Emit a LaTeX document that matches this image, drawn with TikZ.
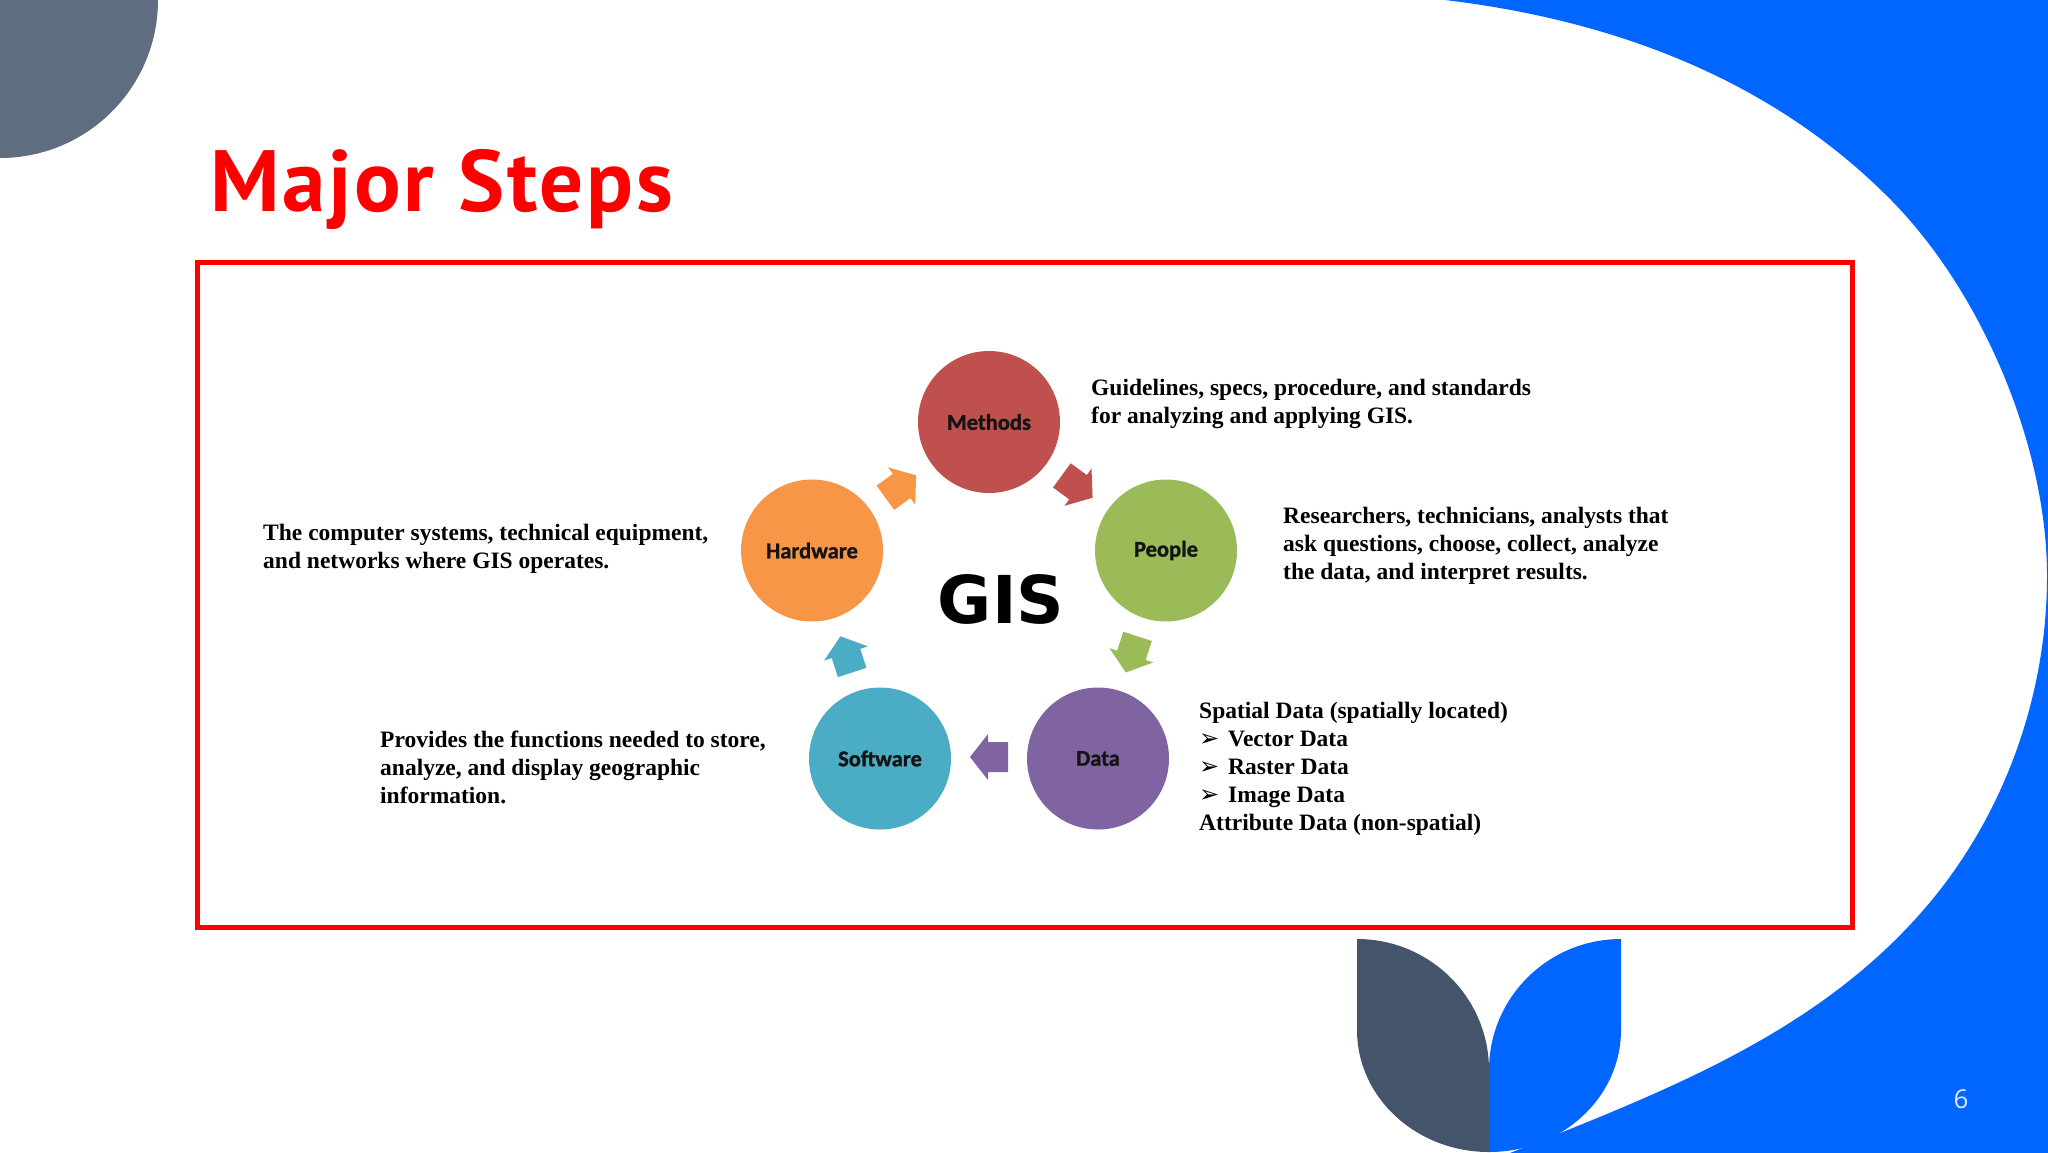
\documentclass[tikz,border=0pt]{standalone}
\usepackage{fontspec}
\setmainfont{Liberation Serif}
\newfontfamily\titlefont[LetterSpace=3.0]{PT Sans}
\newfontfamily\lblfont[BoldFeatures={FakeBold=1.2}]{Carlito}
\newfontfamily\gisfont{DejaVu Sans}
\newfontfamily\bulletfont{DejaVu Sans}
\newfontfamily\numfont{Open Sans}
\definecolor{tlgray}{HTML}{5F6D81}
\definecolor{leafdark}{HTML}{44546A}
\definecolor{slideblue}{HTML}{0066FF}
\definecolor{methodsC}{HTML}{C0504D}
\definecolor{peopleC}{HTML}{9BBB59}
\definecolor{dataC}{HTML}{8064A2}
\definecolor{softwareC}{HTML}{4BACC6}
\definecolor{hardwareC}{HTML}{F79646}
\definecolor{labeltext}{HTML}{141414}
\definecolor{pagenum}{HTML}{DCE6FF}
\tikzset{
  desc/.style={anchor=base west, inner sep=0pt, text=black,
    font=\bfseries\fontsize{23.5}{28}\selectfont},
  comp/.style={circle, minimum size=142pt, inner sep=0pt, text=labeltext,
    font=\lblfont\bfseries\fontsize{22.5}{24}\selectfont},
  blockarrow/.style={fill=#1}
}
\newcommand{\arrowshape}{(19,0) -- (1,23) -- (1,15) -- (-19,15) -- (-19,-15) -- (1,-15) -- (1,-23) -- cycle}
\newcommand{\bul}{\makebox[29pt][l]{\bulletfont\mdseries\fontsize{24}{24}\selectfont ➢}}
\begin{document}
\begin{tikzpicture}[x=1pt,y=-1pt]
\useasboundingbox (0,0) rectangle (2048,1152);
\fill[white] (0,0) rectangle (2048,1152);
% top-left grey quarter disc
\fill[tlgray] (0,0) -- (158,0) .. controls (158,87.3) and (87.3,158) .. (0,158) -- cycle;
% big blue shape on the right
\fill[slideblue] (1445,0) .. controls (1613.8,20.2) and (1772,79.3) .. (1891,200)
  .. controls (1982,292.3) and (2047,446) .. (2047,576)
  .. controls (2047,696) and (2004,815.8) .. (1926,907)
  .. controls (1815.5,1036.2) and (1657.8,1093.9) .. (1500,1157)
  -- (1440,1180) -- (2048,1180) -- (2048,0) -- cycle;
% leaves
\fill[leafdark] (1357,939) .. controls (1429.9,939) and (1489,997.6) .. (1489,1070) -- (1489,1152)
  .. controls (1416.1,1152) and (1357,1097.4) .. (1357,1030) -- cycle;
\fill[slideblue] (1621,939) .. controls (1548.1,939) and (1489,997.6) .. (1489,1070) -- (1489,1152)
  .. controls (1561.9,1152) and (1621,1097.4) .. (1621,1030) -- cycle;
% title
\node[anchor=base west, inner sep=0pt, text=red, font=\titlefont\bfseries\fontsize{87}{90}\selectfont] (title) at (210,211) {Major Steps};
% red frame
\draw[red, line width=5pt] (197,262) rectangle (1852,927);
% cycle components
\node[comp, fill=methodsC] (methods) at (989,422) {Methods};
\node[comp, fill=peopleC] (people) at (1166,550.5) {People};
\node[comp, fill=dataC] (data) at (1098,758.5) {Data};
\node[comp, fill=softwareC] (software) at (880,758.5) {Software};
\node[comp, fill=hardwareC] (hardware) at (812,550.5) {Hardware};
\node[anchor=base, inner sep=0pt, text=black, font=\gisfont\bfseries\fontsize{66}{70}\selectfont] (gis) at (1001,623) {GIS};
% block arrows between components
\coordinate (a1) at (900.8,486.6);
\coordinate (a2) at (1077.2,486.6);
\coordinate (a3) at (1131.7,654.4);
\coordinate (a4) at (989,757);
\coordinate (a5) at (846.3,654.4);
\fill[blockarrow=hardwareC, shift={(a1)}, rotate=36] \arrowshape;
\fill[blockarrow=methodsC, shift={(a2)}, rotate=-36] \arrowshape;
\fill[blockarrow=peopleC, shift={(a3)}, rotate=-108] \arrowshape;
\fill[blockarrow=dataC, shift={(a4)}, rotate=180] \arrowshape;
\fill[blockarrow=softwareC, shift={(a5)}, rotate=108] \arrowshape;
% descriptions
\node[desc] (dmethods) at (1091,395) {\begin{tabular}[t]{@{}l@{}}Guidelines, specs, procedure, and standards\\for analyzing and applying GIS.\end{tabular}};
\node[desc] (dpeople) at (1283,523) {\begin{tabular}[t]{@{}l@{}}Researchers, technicians, analysts that\\ask questions, choose, collect, analyze\\the data, and interpret results.\end{tabular}};
\node[desc] (dhardware) at (263,540) {\begin{tabular}[t]{@{}l@{}}The computer systems, technical equipment,\\and networks where GIS operates.\end{tabular}};
\node[desc] (dsoftware) at (380,747) {\begin{tabular}[t]{@{}l@{}}Provides the functions needed to store,\\analyze, and display geographic\\information.\end{tabular}};
\node[desc] (ddata) at (1199,718) {\begin{tabular}[t]{@{}l@{}}Spatial Data (spatially located)\\\bul Vector Data\\\bul Raster Data\\\bul Image Data\\Attribute Data (non-spatial)\end{tabular}};
% page number
\node[anchor=base, inner sep=0pt, text=pagenum, font=\numfont\fontsize{26}{28}\selectfont] (pnum) at (1961,1108) {6};
\end{tikzpicture}
\end{document}
